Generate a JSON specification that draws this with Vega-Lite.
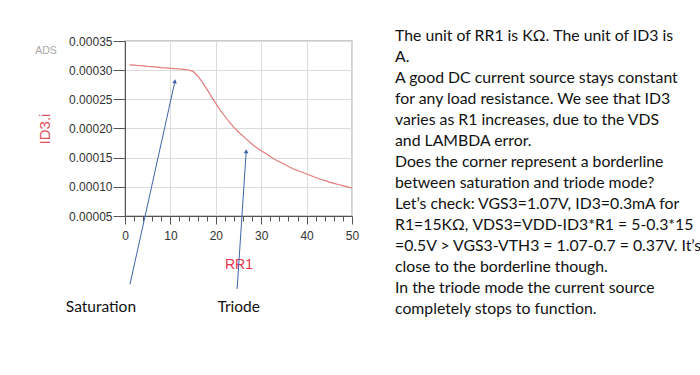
{
  "$schema": "https://vega.github.io/schema/vega-lite/v6.json",
  "padding": {"left": 34, "top": 27, "right": 0, "bottom": 0},
  "background": "white",
  "spacing": 35,
  "config": {
    "view": {"stroke": "#9a9a9a", "strokeWidth": 1.3},
    "axis": {"labelFont": "Liberation Sans", "titleFont": "Liberation Sans"}
  },
  "datasets": {
    "curve": [
      {"RR1": 1, "ID3": 0.000309}, {"RR1": 2, "ID3": 0.0003085}, {"RR1": 3, "ID3": 0.000308},
      {"RR1": 4, "ID3": 0.0003072}, {"RR1": 5, "ID3": 0.0003065}, {"RR1": 6, "ID3": 0.000306},
      {"RR1": 7, "ID3": 0.0003052}, {"RR1": 8, "ID3": 0.0003045}, {"RR1": 9, "ID3": 0.000304},
      {"RR1": 10, "ID3": 0.0003032}, {"RR1": 11, "ID3": 0.0003025}, {"RR1": 12, "ID3": 0.000302},
      {"RR1": 13, "ID3": 0.0003012}, {"RR1": 14, "ID3": 0.0003003}, {"RR1": 15, "ID3": 0.000298},
      {"RR1": 16, "ID3": 0.00029}, {"RR1": 17, "ID3": 0.00028}, {"RR1": 18, "ID3": 0.000268},
      {"RR1": 19, "ID3": 0.000255}, {"RR1": 20, "ID3": 0.000243}, {"RR1": 21, "ID3": 0.000231},
      {"RR1": 22, "ID3": 0.000221}, {"RR1": 23, "ID3": 0.000211}, {"RR1": 24, "ID3": 0.000202},
      {"RR1": 25, "ID3": 0.000194}, {"RR1": 26, "ID3": 0.000187}, {"RR1": 27, "ID3": 0.00018},
      {"RR1": 28, "ID3": 0.000173}, {"RR1": 29, "ID3": 0.000167}, {"RR1": 30, "ID3": 0.000162},
      {"RR1": 31, "ID3": 0.000157}, {"RR1": 32, "ID3": 0.000152}, {"RR1": 33, "ID3": 0.000147},
      {"RR1": 34, "ID3": 0.000143}, {"RR1": 35, "ID3": 0.000139}, {"RR1": 36, "ID3": 0.000135},
      {"RR1": 37, "ID3": 0.000131}, {"RR1": 38, "ID3": 0.000128}, {"RR1": 39, "ID3": 0.000125},
      {"RR1": 40, "ID3": 0.000122}, {"RR1": 41, "ID3": 0.000119}, {"RR1": 42, "ID3": 0.000116},
      {"RR1": 43, "ID3": 0.000113}, {"RR1": 44, "ID3": 0.000111}, {"RR1": 45, "ID3": 0.000108},
      {"RR1": 46, "ID3": 0.000106}, {"RR1": 47, "ID3": 0.000104}, {"RR1": 48, "ID3": 0.000102},
      {"RR1": 49, "ID3": 0.0001}, {"RR1": 50, "ID3": 0.000098}
    ],
    "arrows": [
      {"label": "Saturation", "x": 1.1, "y": -0.000067, "x2": 11.0, "y2": 0.000281, "lx": -5.3, "ly": -0.000106},
      {"label": "Triode", "x": 24.7, "y": -0.000075, "x2": 26.7, "y2": 0.000161, "lx": 25.05, "ly": -0.000106}
    ],
    "notes": [
      {"line": 1, "text": "The unit of RR1 is KΩ. The unit of ID3 is"},
      {"line": 2, "text": "A."},
      {"line": 3, "text": "A good DC current source stays constant"},
      {"line": 4, "text": "for any load resistance. We see that ID3"},
      {"line": 5, "text": "varies as R1 increases, due to the VDS"},
      {"line": 6, "text": "and LAMBDA error."},
      {"line": 7, "text": "Does the corner represent a borderline"},
      {"line": 8, "text": "between saturation and triode mode?"},
      {"line": 9, "text": "Let’s check: VGS3=1.07V, ID3=0.3mA for"},
      {"line": 10, "text": "R1=15KΩ, VDS3=VDD-ID3*R1 = 5-0.3*15"},
      {"line": 11, "text": "=0.5V > VGS3-VTH3 = 1.07-0.7 = 0.37V. It’s"},
      {"line": 12, "text": "close to the borderline though."},
      {"line": 13, "text": "In the triode mode the current source"},
      {"line": 14, "text": "completely stops to function."}
    ]
  },
  "hconcat": [
    {
      "width": 227,
      "height": 175,
      "resolve": {"axis": {"x": "independent"}},
      "layer": [
        {
          "data": {"name": "curve"},
          "mark": {"type": "line", "color": "#e57b7b", "strokeWidth": 1.2},
          "encoding": {
            "x": {"field": "RR1", "type": "quantitative",
                  "scale": {"domain": [0, 50], "nice": false, "zero": false},
                  "axis": {"values": [0, 10, 20, 30, 40, 50], "tickCount": 20, "title": "RR1", "titleColor": "#e8314a", "titleFontSize": 14, "titleFontWeight": "normal", "titlePadding": 16,
                           "labelFontSize": 12, "labelColor": "#333", "tickSize": 8, "labelPadding": 6, "tickColor": "#555", "domainColor": "#555",
                           "grid": true, "gridColor": "#dcdcdc", "labelFlush": false, "labelOverlap": false}},
            "y": {"field": "ID3", "type": "quantitative",
                  "scale": {"domain": [0.00005, 0.00035], "nice": false, "zero": false},
                  "axis": {"values": [0.00005, 0.0001, 0.00015, 0.0002, 0.00025, 0.0003, 0.00035], "tickCount": 20, "format": ".5f", "title": "ID3.i",
                           "titleColor": "#e0505e", "titleFontSize": 15, "titleFontWeight": "normal", "titlePadding": 16,
                           "labelFontSize": 12, "labelColor": "#333", "tickSize": 12, "labelPadding": 1, "tickColor": "#555", "domainColor": "#555",
                           "grid": true, "gridColor": "#dcdcdc", "labelOverlap": false, "labelFlush": false}}
          }
        },
        {
          "data": {"name": "arrows"},
          "mark": {"type": "rule", "color": "#3d64a8", "strokeWidth": 1},
          "encoding": {
            "x": {"field": "x", "type": "quantitative", "scale": {"domain": [0, 50], "nice": false, "zero": false}, "axis": null},
            "y": {"field": "y", "type": "quantitative", "scale": {"domain": [0.00005, 0.00035], "nice": false, "zero": false}},
            "x2": {"field": "x2"},
            "y2": {"field": "y2"}
          }
        },
        {
          "data": {"name": "arrows"},
          "transform": [{"filter": "datum.label === 'Saturation'"}],
          "mark": {"type": "point", "shape": "triangle-up", "filled": true, "color": "#3d64a8", "size": 22, "angle": 12.6, "opacity": 1},
          "encoding": {
            "x": {"field": "x2", "type": "quantitative", "scale": {"domain": [0, 50], "nice": false, "zero": false}, "axis": null},
            "y": {"field": "y2", "type": "quantitative", "scale": {"domain": [0.00005, 0.00035], "nice": false, "zero": false}}
          }
        },
        {
          "data": {"name": "arrows"},
          "transform": [{"filter": "datum.label === 'Triode'"}],
          "mark": {"type": "point", "shape": "triangle-up", "filled": true, "color": "#3d64a8", "size": 22, "angle": 4, "opacity": 1},
          "encoding": {
            "x": {"field": "x2", "type": "quantitative", "scale": {"domain": [0, 50], "nice": false, "zero": false}, "axis": null},
            "y": {"field": "y2", "type": "quantitative", "scale": {"domain": [0.00005, 0.00035], "nice": false, "zero": false}}
          }
        },
        {
          "data": {"name": "arrows"},
          "mark": {"type": "text", "font": "Lato", "fontSize": 15.5, "color": "#111", "baseline": "middle", "align": "center"},
          "encoding": {
            "x": {"field": "lx", "type": "quantitative", "scale": {"domain": [0, 50], "nice": false, "zero": false},
                  "axis": {"orient": "bottom", "values": [2, 4, 6, 8, 12, 14, 16, 18, 22, 24, 26, 28, 32, 34, 36, 38, 42, 44, 46, 48], "tickCount": 40,
                           "labels": false, "domain": false, "grid": false, "title": null, "tickSize": 5, "tickColor": "#555"}},
            "y": {"field": "ly", "type": "quantitative", "scale": {"domain": [0.00005, 0.00035], "nice": false, "zero": false}},
            "text": {"field": "label"}
          }
        },
        {
          "data": {"values": [{"RR1": -17.4, "ID3": 0.000333, "text": "ADS"}]},
          "mark": {"type": "text", "font": "Liberation Sans", "fontSize": 10.5, "color": "#a8a8a8", "baseline": "middle", "align": "center"},
          "encoding": {
            "x": {"field": "RR1", "type": "quantitative", "scale": {"domain": [0, 50], "nice": false, "zero": false}, "axis": null},
            "y": {"field": "ID3", "type": "quantitative", "scale": {"domain": [0.00005, 0.00035], "nice": false, "zero": false}},
            "text": {"field": "text"}
          }
        }
      ]
    },
    {
      "width": 300,
      "height": 268,
      "view": {"stroke": null},
      "data": {"name": "notes"},
      "mark": {"type": "text", "font": "Lato", "fontSize": 15.8, "color": "#111", "align": "left", "baseline": "middle"},
      "encoding": {
        "x": {"datum": 0, "type": "quantitative", "scale": {"domain": [0, 1]}, "axis": null},
        "y": {"field": "line", "type": "quantitative", "scale": {"domain": [1.25, 14], "reverse": true}, "axis": null},
        "text": {"field": "text"}
      }
    }
  ]
}
